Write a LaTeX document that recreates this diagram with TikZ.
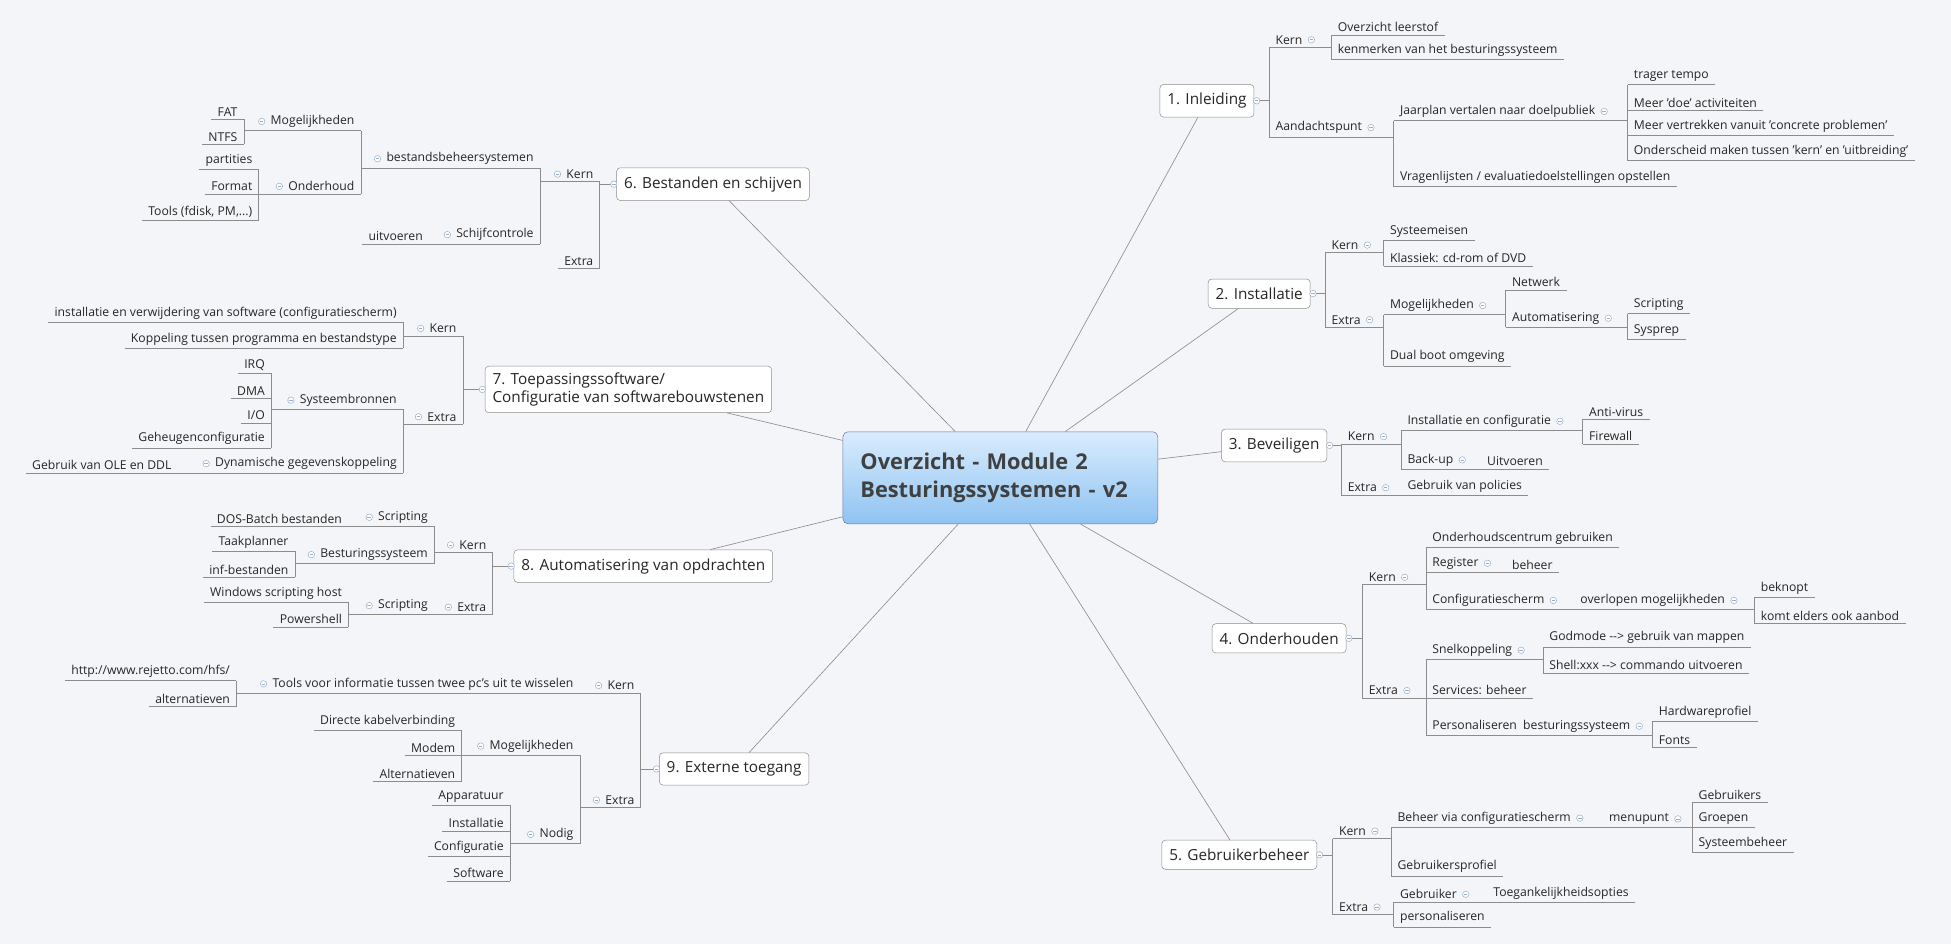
\documentclass[tikz,border=0pt]{standalone}
\usepackage{fontspec}
\setmainfont{Open Sans}
\usetikzlibrary{calc}
\definecolor{bg}{HTML}{F3F5F9}
\definecolor{ln}{HTML}{8C8C8C}
\definecolor{cb}{HTML}{9AAFC8}
\definecolor{ctop}{HTML}{D9ECFD}
\definecolor{cbot}{HTML}{8FC3F2}
\tikzset{
 t/.style={font=\fontsize{9.8}{11.5}\selectfont, text=black!85, inner xsep=5pt, inner ysep=2.3pt},
 box/.style={draw=ln, fill=white, rounded corners=3pt, font=\fontsize{12.3}{15}\selectfont, inner xsep=6pt, inner ysep=7pt, align=left, text=black!85},
 cn/.style={draw=ln, line width=0.5pt},
}
\newcommand\mR[4]{\node[t,anchor=south west] (#1) at (#2,#3) {#4}; \draw[cn] (#1.south west) -- (#1.south east);}
\newcommand\mL[4]{\node[t,anchor=south east] (#1) at (#2,#3) {#4}; \draw[cn] (#1.south west) -- (#1.south east);}
\newcommand\eR[2]{\draw[cn] (#1.south east) -| (#2.south west);}
\newcommand\eL[2]{\draw[cn] (#1.south west) -| (#2.south east);}
\newcommand\bR[2]{\draw[cn] (#1.east) -| (#2.south west);}
\newcommand\bL[2]{\draw[cn] (#1.west) -| (#2.south east);}
\newcommand\cm[1]{\draw[cb,fill=white,line width=0.4pt] (#1) circle (2.6); \draw[cb,line width=0.5pt] ($(#1)+(-1.4,0)$) -- ($(#1)+(1.4,0)$);}
\newcommand\cR[1]{\cm{$(#1.east)+(2,0)$}}
\newcommand\cL[1]{\cm{$(#1.west)+(-2,0)$}}
\begin{document}
\begin{tikzpicture}[x=1pt,y=-1pt]
\fill[bg] (0,0) rectangle (1568,759);
\useasboundingbox (0,0) rectangle (1568,759);
% central
\node[draw=ln!80!blue, rounded corners=4pt, top color=ctop, bottom color=cbot, minimum width=253, minimum height=74, text width=225, align=left, font=\fontsize{17.5}{23}\selectfont\bfseries, text=black!75] (c) at (804,384) {Overzicht - Module 2\\Besturingssystemen - v2};
% level 1 boxes
\node[box] (n1) at (970,81) {1. Inleiding};
\node[box] (n2) at (1012,236) {2. Installatie};
\node[box] (n3) at (1024,358) {3. Beveiligen};
\node[box] (n4) at (1028,513) {4. Onderhouden};
\node[box] (n5) at (996,687) {5. Gebruikerbeheer};
\node[box] (n6) at (573,148) {6. Bestanden en schijven};
\node[box,inner ysep=5pt] (n7) at (505,313) {7. Toepassingssoftware/\\Configuratie van softwarebouwstenen};
\node[box] (n8) at (517,455) {8. Automatisering van opdrachten};
\node[box] (n9) at (590,618) {9. Externe toegang};
\foreach \n in {n1,n2,n3,n4,n5,n6,n7,n8,n9} \draw[cn] (c) -- (\n);
% 1
\mR{a1}{1020}{38}{Kern} \mR{a11}{1070}{28}{Overzicht leerstof} \mR{a12}{1070}{48}{kenmerken van het besturingssysteem}
\mR{a2}{1020}{110}{Aandachtspunt} \mR{a21}{1120}{97}{Jaarplan vertalen naar doelpubliek}
\mR{a211}{1308}{68}{trager tempo} \mR{a212}{1308}{89}{Meer 'doe' activiteiten}
\mR{a213}{1308}{109}{Meer vertrekken vanuit 'concrete problemen'} \mR{a214}{1308}{129}{Onderscheid maken tussen 'kern' en 'uitbreiding'}
\mR{a22}{1120}{150}{Vragenlijsten / evaluatiedoelstellingen opstellen}
\bR{n1}{a1}\bR{n1}{a2}\eR{a1}{a11}\eR{a1}{a12}\eR{a2}{a21}\eR{a2}{a22}
\eR{a21}{a211}\eR{a21}{a212}\eR{a21}{a213}\eR{a21}{a214}
% 2
\mR{b1}{1065}{203}{Kern} \mR{b11}{1112}{193}{Systeemeisen} \mR{b12}{1112}{214}{Klassiek: cd-rom of DVD}
\mR{b2}{1065}{263}{Extra} \mR{b21}{1112}{253}{Mogelijkheden} \mR{b211}{1210}{233}{Netwerk} \mR{b212}{1210}{263}{Automatisering}
\mR{b2121}{1308}{252}{Scripting} \mR{b2122}{1308}{273}{Sysprep} \mR{b22}{1112}{294}{Dual boot omgeving}
\bR{n2}{b1}\bR{n2}{b2}\eR{b1}{b11}\eR{b1}{b12}\eR{b2}{b21}\eR{b2}{b22}\eR{b21}{b211}\eR{b21}{b212}\eR{b212}{b2121}\eR{b212}{b2122}
% 3
\mR{c1}{1078}{357}{Kern} \mR{c11}{1126}{346}{Installatie en configuratie} \mR{c111}{1272}{337}{Anti-virus} \mR{c112}{1272}{357}{Firewall}
\mR{c12}{1126}{377}{Back-up} \mR{c121}{1190}{377}{Uitvoeren}
\mR{c2}{1078}{398}{Extra} \mR{c21}{1126}{398}{Gebruik van policies}
\bR{n3}{c1}\bR{n3}{c2}\eR{c1}{c11}\eR{c1}{c12}\eR{c11}{c111}\eR{c11}{c112}\eR{c12}{c121}\eR{c2}{c21}
% 4
\mR{d1}{1095}{470}{Kern} \mR{d11}{1146}{440}{Onderhoudscentrum gebruiken} \mR{d12}{1146}{460}{Register} \mR{d121}{1210}{460}{beheer}
\mR{d13}{1146}{490}{Configuratiescherm} \mR{d131}{1265}{490}{overlopen mogelijkheden}
\mR{d1311}{1410}{480}{beknopt} \mR{d1312}{1410}{501}{komt elders ook aanbod}
\mR{d2}{1095}{561}{Extra} \mR{d21}{1146}{530}{Snelkoppeling} \mR{d211}{1240}{520}{Godmode {-}{-}> gebruik van mappen} \mR{d212}{1240}{541}{Shell:xxx {-}{-}> commando uitvoeren}
\mR{d22}{1146}{561}{Services: beheer} \mR{d23}{1146}{591}{Personaliseren\ \ besturingssysteem}
\mR{d231}{1328}{580}{Hardwareprofiel} \mR{d232}{1328}{601}{Fonts}
\bR{n4}{d1}\bR{n4}{d2}\eR{d1}{d11}\eR{d1}{d12}\eR{d1}{d13}\eR{d12}{d121}\eR{d13}{d131}\eR{d131}{d1311}\eR{d131}{d1312}
\eR{d2}{d21}\eR{d2}{d22}\eR{d2}{d23}\eR{d21}{d211}\eR{d21}{d212}\eR{d23}{d231}\eR{d23}{d232}
% 5
\mR{e1}{1071}{674}{Kern} \mR{e11}{1118}{665}{Beheer via configuratiescherm} \mR{e111}{1288}{665}{menupunt}
\mR{e1111}{1360}{645}{Gebruikers} \mR{e1112}{1360}{665}{Groepen} \mR{e1113}{1360}{685}{Systeembeheer}
\mR{e12}{1118}{704}{Gebruikersprofiel}
\mR{e2}{1071}{735}{Extra} \mR{e21}{1120}{725}{Gebruiker} \mR{e211}{1195}{725}{Toegankelijkheidsopties} \mR{e22}{1120}{745}{personaliseren}
\bR{n5}{e1}\bR{n5}{e2}\eR{e1}{e11}\eR{e1}{e12}\eR{e11}{e111}\eR{e111}{e1111}\eR{e111}{e1112}\eR{e111}{e1113}\eR{e2}{e21}\eR{e2}{e22}\eR{e21}{e211}
% 6
\mL{f1}{482}{146}{Kern} \mL{f11}{434}{135}{bestandsbeheersystemen} \mL{f111}{290}{105}{Mogelijkheden}
\mL{f1111}{196}{96}{FAT} \mL{f1112}{196}{116}{NTFS} \mL{f112}{290}{156}{Onderhoud}
\mL{f1121}{208}{136}{partities} \mL{f1122}{208}{156}{Format} \mL{f1123}{208}{177}{Tools (fdisk, PM,...)}
\mL{f12}{434}{196}{Schijfcontrole} \mL{f121}{345}{196}{uitvoeren} \mL{f2}{482}{216}{Extra}
\bL{n6}{f1}\bL{n6}{f2}\eL{f1}{f11}\eL{f1}{f12}\eL{f11}{f111}\eL{f11}{f112}\eL{f111}{f1111}\eL{f111}{f1112}
\eL{f112}{f1121}\eL{f112}{f1122}\eL{f112}{f1123}\eL{f12}{f121}
% 7
\mL{g1}{372}{270}{Kern} \mL{g11}{324}{259}{installatie en verwijdering van software (configuratiescherm)} \mL{g12}{324}{280}{Koppeling tussen programma en bestandstype}
\mL{g2}{372}{341}{Extra} \mL{g21}{324}{329}{Systeembronnen}
\mL{g211}{218}{300}{IRQ} \mL{g212}{218}{320}{DMA} \mL{g213}{218}{340}{I/O} \mL{g214}{218}{360}{Geheugenconfiguratie}
\mL{g22}{324}{380}{Dynamische gegevenskoppeling} \mL{g221}{143}{380}{Gebruik van OLE en DDL}
\bL{n7}{g1}\bL{n7}{g2}\eL{g1}{g11}\eL{g1}{g12}\eL{g2}{g21}\eL{g2}{g22}\eL{g21}{g211}\eL{g21}{g212}\eL{g21}{g213}\eL{g21}{g214}\eL{g22}{g221}
% 8
\mL{h1}{396}{444}{Kern} \mL{h11}{349}{423}{Scripting} \mL{h111}{280}{423}{DOS-Batch bestanden}
\mL{h12}{349}{453}{Besturingssysteem} \mL{h121}{237}{443}{Taakplanner} \mL{h122}{237}{464}{inf-bestanden}
\mL{h2}{396}{494}{Extra} \mL{h21}{349}{494}{Scripting} \mL{h211}{280}{484}{Windows scripting host} \mL{h212}{280}{504}{Powershell}
\bL{n8}{h1}\bL{n8}{h2}\eL{h1}{h11}\eL{h1}{h12}\eL{h11}{h111}\eL{h12}{h121}\eL{h12}{h122}\eL{h2}{h21}\eL{h21}{h211}\eL{h21}{h212}
% 9
\mL{k1}{515}{557}{Kern} \mL{k11}{466}{557}{Tools voor informatie tussen twee pc's uit te wisselen}
\mL{k111}{190}{547}{http://www.rejetto.com/hfs/} \mL{k112}{190}{568}{alternatieven}
\mL{k2}{515}{649}{Extra} \mL{k21}{466}{607}{Mogelijkheden}
\mL{k211}{371}{587}{Directe kabelverbinding} \mL{k212}{371}{607}{Modem} \mL{k213}{371}{628}{Alternatieven}
\mL{k22}{466}{678}{Nodig} \mL{k221}{410}{647}{Apparatuur} \mL{k222}{410}{668}{Installatie} \mL{k223}{410}{688}{Configuratie} \mL{k224}{410}{708}{Software}
\bL{n9}{k1}\bL{n9}{k2}\eL{k1}{k11}\eL{k11}{k111}\eL{k11}{k112}\eL{k2}{k21}\eL{k2}{k22}
\eL{k21}{k211}\eL{k21}{k212}\eL{k21}{k213}\eL{k22}{k221}\eL{k22}{k222}\eL{k22}{k223}\eL{k22}{k224}
% collapse markers
\foreach \p in {n1,n2,n3,n4,n5,a1,a2,a21,b1,b2,b21,b212,c1,c11,c12,c2,d1,d12,d13,d131,d2,d21,d23,e1,e11,e111,e2,e21} {\cR{\p}}
\foreach \p in {n6,n7,n8,n9,f1,f11,f111,f112,f12,g1,g2,g21,g22,h1,h11,h12,h2,h21,k1,k11,k2,k21,k22} {\cL{\p}}
\end{tikzpicture}
\end{document}
